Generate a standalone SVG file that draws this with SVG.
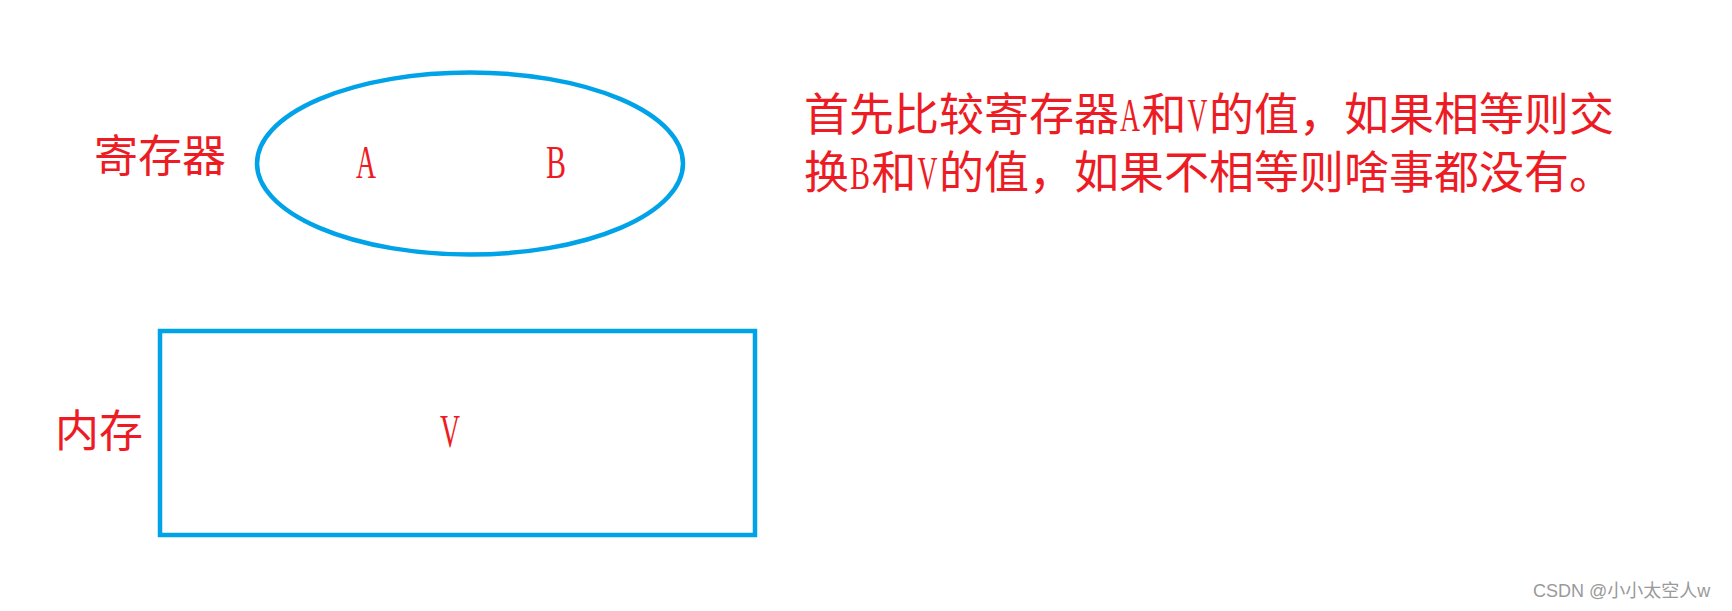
<svg xmlns="http://www.w3.org/2000/svg" width="1732" height="611" viewBox="0 0 1732 611">
  <style>
    .shape { fill: none; stroke: #00A2E8; stroke-width: 4.5; }
    .cjk { fill: #ED1C24; font-family: "Noto Sans CJK SC", "Noto Sans", sans-serif; }
    .lat { fill: #ED1C24; font-family: "Liberation Serif", serif; font-size: 46px; }
    .wm { fill: #9a9a9a; font-family: "Liberation Sans", "Noto Sans CJK SC", sans-serif; font-size: 18px; }
  </style>
  <rect width="1732" height="611" fill="#ffffff"/>
  <g id="connectors"></g>

  <g id="register-label">
    <text class="cjk" x="94" y="172" font-size="44">寄存器</text>
  </g>

  <g id="register">
    <ellipse class="shape" cx="470" cy="163.5" rx="213" ry="91"/>
    <text class="lat" x="356" y="178" textLength="20" lengthAdjust="spacingAndGlyphs">A</text>
    <text class="lat" x="546" y="178" textLength="20" lengthAdjust="spacingAndGlyphs">B</text>
  </g>

  <g id="memory-label">
    <text class="cjk" x="55" y="447" font-size="44">内存</text>
  </g>

  <g id="memory">
    <rect class="shape" x="160" y="331" width="595" height="204"/>
    <text class="lat" x="440" y="447" textLength="20" lengthAdjust="spacingAndGlyphs">V</text>
  </g>

  <g id="note">
    <text class="cjk" x="804" y="131" font-size="45">首先比较寄存器<tspan class="lat" x="1120" textLength="20" lengthAdjust="spacingAndGlyphs">A</tspan><tspan x="1141.5">和</tspan><tspan class="lat" x="1187.5" textLength="20" lengthAdjust="spacingAndGlyphs">V</tspan><tspan x="1209">的值，如果相等则交</tspan></text>
    <text class="cjk" x="804" y="189" font-size="45">换<tspan class="lat" x="850" textLength="20" lengthAdjust="spacingAndGlyphs">B</tspan><tspan x="871.5">和</tspan><tspan class="lat" x="917.5" textLength="20" lengthAdjust="spacingAndGlyphs">V</tspan><tspan x="939">的值，如果不相等则啥事都没有。</tspan></text>
  </g>

  <g id="watermark">
    <text class="wm" x="1533" y="597">CSDN @小小太空人w</text>
  </g>
</svg>
